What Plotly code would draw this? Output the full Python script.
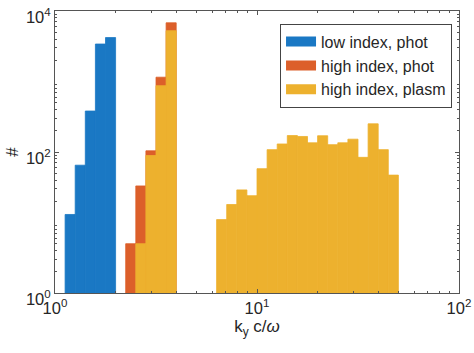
import plotly.graph_objects as go

# bin edges given as log10(k_y c/omega), counts per bin
blue_edges_log = [0.05, 0.10, 0.15, 0.20, 0.25, 0.30]
blue_counts = [12, 64, 380, 3400, 4200]

orange_edges_log = [0.35, 0.40, 0.45, 0.50, 0.55, 0.60]
orange_counts = [4, 32, 103, 1150, 6800]

yellow_edges_log = [0.40, 0.45, 0.50, 0.55, 0.60,
                    0.80, 0.85, 0.90, 0.95, 1.00, 1.05, 1.10, 1.15, 1.20, 1.25,
                    1.30, 1.35, 1.40, 1.45, 1.50, 1.55, 1.60, 1.65, 1.70]
yellow_counts = [4, 88, 870, 5250, 0,
                 10, 17, 28, 23, 57, 107, 129, 170, 165, 134,
                 169, 126, 134, 151, 83, 250, 107, 46]

x_tickvals = [1, 10, 100]
x_ticktext = ["10<sup>0</sup>", "10<sup>1</sup>", "10<sup>2</sup>"]
y_tickvals = [1, 100, 10000]
y_ticktext = ["10<sup>0</sup>", "10<sup>2</sup>", "10<sup>4</sup>"]

names = ["low index, phot", "high index, phot", "high index, plasm"]
colors = ["#1A78C4", "#DC5F2A", "#EDB12E"]


def bars(edges_log, counts):
    lo = [10 ** e for e in edges_log[:-1]]
    hi = [10 ** e for e in edges_log[1:]]
    xs, ws, ys = [], [], []
    for a, b, c in zip(lo, hi, counts):
        if c <= 0:
            continue
        xs.append((a + b) / 2)
        ws.append(b - a)
        ys.append(c)
    return xs, ws, ys


fig = go.Figure()
for edges, counts, name, col in [(blue_edges_log, blue_counts, names[0], colors[0]),
                                 (orange_edges_log, orange_counts, names[1], colors[1]),
                                 (yellow_edges_log, yellow_counts, names[2], colors[2])]:
    xs, ws, ys = bars(edges, counts)
    fig.add_trace(go.Bar(x=xs, y=ys, width=ws, base=1, name=name, showlegend=False,
                         marker=dict(color=col, line=dict(width=0.8, color=col))))

# legend swatches (wide, like MATLAB)
for name, col in zip(names, colors):
    fig.add_trace(go.Scatter(x=[None], y=[None], mode="lines", name=name,
                             line=dict(color=col, width=12)))

minor_x = [m * d for d in (1, 10) for m in range(2, 10)]
minor_y = [m * d for d in (1, 10, 100, 1000) for m in range(2, 10)]

axis_common = dict(showline=True, linecolor="#555555", linewidth=1, mirror="allticks",
                   ticks="inside", ticklen=4, tickcolor="#555555", showgrid=False,
                   zeroline=False, ticklabeloverflow="allow", automargin=False,
                   tickfont=dict(family="Liberation Sans, Arial", size=16.5, color="#262626"))

fig.update_layout(
    barmode="overlay",
    width=474, height=353,
    margin=dict(l=55, r=15, t=11, b=60),
    plot_bgcolor="white", paper_bgcolor="white",
    font=dict(family="Liberation Sans, Arial", size=17, color="#262626"),
    xaxis=dict(type="log", range=[0, 2], tickmode="array", tickvals=x_tickvals, ticktext=x_ticktext,
               minor=dict(tickvals=minor_x, ticks="inside", ticklen=2, tickcolor="#555555"),
               title=dict(text="k<sub>y</sub> c/<i>ω</i>", standoff=4, font=dict(size=17)),
               **axis_common),
    yaxis=dict(type="log", range=[0, 4], tickmode="array", tickvals=y_tickvals, ticktext=y_ticktext,
               minor=dict(tickvals=minor_y, ticks="inside", ticklen=2, tickcolor="#555555"),
               title=dict(text="#", standoff=2, font=dict(size=17)),
               ticklabelshift=6, ticklabelstandoff=0,
               **axis_common),
    legend=dict(x=0.557, y=0.955, xanchor="left", yanchor="top", bgcolor="white",
                bordercolor="#444444", borderwidth=1, font=dict(size=16), tracegroupgap=0,
                itemwidth=30),
    showlegend=True,
)

fig.write_html("out.html")
